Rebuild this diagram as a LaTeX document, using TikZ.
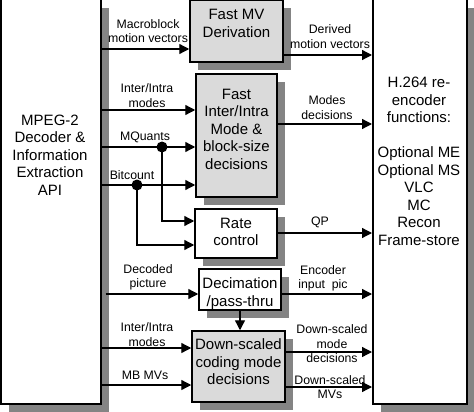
\documentclass[tikz,border=0pt]{standalone}
\usepackage{fontspec}
\setmainfont{Liberation Sans}
\usetikzlibrary{arrows.meta,shadows}
\definecolor{boxgray}{RGB}{218,218,218}
\definecolor{shadegray}{RGB}{132,132,132}

\begin{document}
\begin{tikzpicture}[x=1pt,y=-1pt,
	box/.style={draw,line width=1.5pt,fill=boxgray,inner sep=0pt,
		drop shadow={shadow xshift=8pt,shadow yshift=-8pt,fill=shadegray,opacity=1}},
	plainbox/.style={box,fill=white},
	boxtxt/.style={align=center,inner sep=0pt,font=\fontsize{15}{17.5}\selectfont},
	lbl/.style={align=center,inner sep=0pt,font=\fontsize{12.3}{14.5}\selectfont},
	arr/.style={line width=1.3pt,-{Triangle[length=10pt,width=10pt]}},
	dot/.style={circle,fill,inner sep=0pt,minimum size=11pt}]
	
	\useasboundingbox (0,0) rectangle (474,412);
	\clip (0,0) rectangle (474,412);
	
	% decoder and re-encoder
	\node[plainbox,minimum width=100pt,minimum height=404pt,anchor=north west] (dec) at (0,-1) {};
	\node[boxtxt] (dectxt) at (50,155) {MPEG-2\\Decoder \&\\Information\\Extraction\\API};
	\node[plainbox,minimum width=94pt,minimum height=404pt,anchor=north west] (enc) at (372,-1) {};
	\node[boxtxt] (enctxt) at (419,161.5) {H.264 re-\\encoder\\functions:\\[17.5pt]Optional ME\\Optional MS\\VLC\\MC\\Recon\\Frame-store};
	
	% middle blocks
	\node[box,minimum width=93pt,minimum height=62pt] (mv) at (236.5,31) {};
	\node[boxtxt] (mvtxt) at (236.5,23.5) {Fast MV\\Derivation};
	\node[box,minimum width=81pt,minimum height=123pt] (mode) at (236.5,135.5) {};
	\node[boxtxt] (modetxt) at (236.5,129) {Fast\\Inter/Intra\\Mode \&\\block-size\\decisions};
	\node[plainbox,minimum width=82pt,minimum height=49pt] (rate) at (236,233.5) {};
	\node[boxtxt] (ratetxt) at (236,232) {Rate\\control};
	\node[plainbox,minimum width=82pt,minimum height=41pt] (deci) at (240,289.5) {};
	\node[boxtxt] (decitxt) at (240,293.5) {Decimation\\/pass-thru};
	\node[box,minimum width=93pt,minimum height=71pt] (down) at (238.5,366.5) {};
	\node[boxtxt] (downtxt) at (238.5,362) {Down-scaled\\coding mode\\decisions};
	
	% branch points
	\node[dot] (mq) at (162,147) {};
	\node[dot] (bc) at (137,185) {};
	
	% connectors
	\draw[arr] (dec.east |- 0,49) -- (mv.west |- 0,49);
	\draw[arr] (mv.east |- 0,55) -- (enc.west |- 0,55);
	\draw[arr] (dec.east |- 0,110) -- (mode.west |- 0,110);
	\draw[arr] (dec.east |- 0,147) -- (mode.west |- 0,147);
	\draw[arr] (dec.east |- 0,185) -- (mode.west |- 0,185);
	\draw[arr] (mq.center) |- (rate.west |- 0,221);
	\draw[arr] (bc.center) |- (rate.west |- 0,245);
	\draw[arr] (mode.east |- 0,124) -- (enc.west |- 0,124);
	\draw[arr] (rate.east |- 0,233) -- (enc.west |- 0,233);
	\draw[arr] ([xshift=4pt]dec.east |- 0,294) -- (deci.west |- 0,294);
	\draw[arr] (deci.east |- 0,294) -- (enc.west |- 0,294);
	\draw[arr] (deci.south) -- (deci.south |- down.north);
	\draw[arr] (dec.east |- 0,348) -- (down.west |- 0,348);
	\draw[arr] (dec.east |- 0,385) -- (down.west |- 0,385);
	\draw[arr] (down.east |- 0,352) -- (enc.west |- 0,352);
	\draw[arr] (down.east |- 0,387) -- (enc.west |- 0,387);
	
	% connector labels
	\node[lbl] (lmbmv) at (148,31) {Macroblock\\motion vectors};
	\node[lbl] (lder) at (330,36.5) {Derived\\motion vectors};
	\node[lbl] (lmodes) at (147,95.5) {Inter/Intra\\modes};
	\node[lbl] (lmq) at (145,137) {MQuants};
	\node[lbl] (lbc) at (132,175) {Bitcount};
	\node[lbl] (lmdec) at (327,107.5) {Modes\\decisions};
	\node[lbl] (lqp) at (320,222) {QP};
	\node[lbl] (ldpic) at (148,277.5) {Decoded\\picture};
	\node[lbl] (lenc) at (323,278.5) {Encoder\\input\ \ pic};
	\node[lbl] (lmodesb) at (147,334.5) {Inter/Intra\\modes};
	\node[lbl] (lmbv) at (145,375) {MB MVs};
	\node[lbl] (ldsmd) at (332,344) {Down-scaled\\mode\\decisions};
	\node[lbl] (ldsmv) at (330,387) {Down-scaled\\MVs};
	
\end{tikzpicture}
\end{document}
